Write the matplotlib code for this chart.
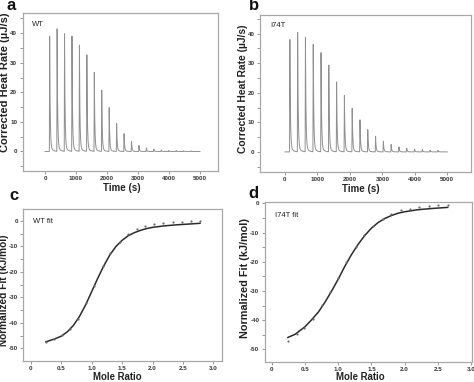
import numpy as np
import matplotlib
matplotlib.use('Agg')
import matplotlib.pyplot as plt
from matplotlib.ticker import FixedLocator

plt.rcParams['font.family'] = ['Liberation Sans', 'DejaVu Sans']
plt.rcParams['axes.unicode_minus'] = False

W, H = 474, 382

# ---------------- data ----------------
injection_times_s = [140, 380, 620, 860, 1100, 1340, 1580, 1820, 2060, 2300,
                     2540, 2780, 3020, 3260, 3500, 3740, 3980, 4220, 4460, 4700]
wt_peak_heights = [38.9, 41.4, 39.7, 38.9, 35.9, 32.6, 26.7, 20.7, 14.8, 9.5,
                   6.0, 3.5, 2.0, 1.2, 0.8, 0.5, 0.3, 0.3, 0.2, 0.2]
i74t_peak_heights = [38.0, 40.3, 38.7, 36.3, 33.5, 29.3, 23.6, 19.1, 14.7, 10.8,
                     7.5, 5.3, 3.6, 2.5, 1.7, 1.2, 1.0, 0.8, 0.6, 0.5]
run_end_s = 5000

wt_ratio = [0.25, 0.38, 0.51, 0.64, 0.78, 0.91, 1.04, 1.18, 1.31, 1.46,
            1.60, 1.74, 1.88, 2.03, 2.18, 2.33, 2.48, 2.63, 2.78]
wt_heat = [-47.6, -46.3, -44.9, -42.5, -38.5, -32.3, -25.5, -17.8, -12.5, -8.2,
           -5.2, -3.3, -1.9, -1.3, -0.6, -0.3, -0.5, -0.1, -0.1]
wt_fit_ratio = [0.25, 0.4, 0.5, 0.6, 0.7, 0.8, 0.9, 1.0, 1.1, 1.2, 1.3, 1.4,
                1.5, 1.6, 1.7, 1.8, 1.9, 2.0, 2.2, 2.4, 2.6, 2.78]
wt_fit_heat = [-47.4, -46.2, -45.2, -43.5, -41.0, -37.5, -33.0, -27.8, -22.5,
               -17.6, -13.3, -10.0, -7.6, -5.8, -4.6, -3.7, -3.0, -2.5, -1.9,
               -1.5, -1.2, -0.9]

i74t_ratio = [0.24, 0.37, 0.49, 0.62, 0.75, 0.88, 1.00, 1.12, 1.26, 1.39,
              1.53, 1.67, 1.80, 1.94, 2.08, 2.22, 2.37, 2.51, 2.65]
i74t_heat = [-47.0, -44.8, -42.5, -39.5, -34.9, -30.4, -25.6, -20.2, -15.0,
             -11.0, -7.8, -5.4, -3.7, -2.4, -2.0, -1.3, -1.0, -0.7, -0.5]
i74t_fit_ratio = [0.24, 0.35, 0.5, 0.6, 0.7, 0.8, 0.9, 1.0, 1.1, 1.2, 1.3,
                  1.4, 1.5, 1.6, 1.7, 1.8, 1.9, 2.0, 2.2, 2.4, 2.65]
i74t_fit_heat = [-45.9, -44.8, -42.2, -39.8, -37.2, -33.8, -30.0, -25.9, -21.5,
                 -17.5, -14.0, -11.0, -8.5, -6.6, -5.2, -4.2, -3.4, -2.9, -2.2,
                 -1.8, -1.4]

# ---------------- helpers ----------------
def rect(l, t, r, b):
    return [l / W, 1 - b / H, (r - l) / W, (b - t) / H]

def fx(x):
    return x / W

def fy(y):
    return 1 - y / H

SPINE = '#a8a8a8'
TXT = '#222222'

def style(ax, ypad=1.4):
    for s in ax.spines.values():
        s.set_color(SPINE)
        s.set_linewidth(0.9)
    ax.tick_params(which='both', direction='out', length=2.5, width=0.6,
                   color='#888888', labelsize=4.5, labelcolor='#333333', pad=1.4)
    ax.tick_params(axis='y', which='both', pad=ypad)
    for lab in ax.get_xticklabels() + ax.get_yticklabels():
        lab.set_fontweight('bold')

def thermogram(times, heights):
    t = np.arange(0, run_end_s + 1, 1.0)
    y = np.zeros_like(t)
    for ti, h in zip(times, heights):
        dt = t - ti
        rise = (dt >= 0) & (dt < 10)
        y[rise] += h * dt[rise] / 10
        dec = dt >= 10
        x = dt[dec] - 10
        y[dec] += h * (0.95 * np.exp(-x / 16) + 0.05 * np.exp(-x / 70))
    return t, y

fig = plt.figure(figsize=(W / 100, H / 100), dpi=100)

# ---------------- panel a / b ----------------
def heat_panel(r, xlim, ylim, heights, tag):
    ax = fig.add_axes(rect(*r))
    t, y = thermogram(injection_times_s, heights)
    ax.plot(t, y, color='#909090', lw=0.7)
    ax.set_xlim(*xlim)
    ax.set_ylim(*ylim)
    ax.xaxis.set_major_locator(FixedLocator([0, 1000, 2000, 3000, 4000, 5000]))
    ax.yaxis.set_major_locator(FixedLocator([0, 10, 20, 30, 40]))
    ax.yaxis.set_minor_locator(FixedLocator([-5, 5, 15, 25, 35, 45]))
    style(ax)
    ax.text(0.05, 0.93, tag, transform=ax.transAxes, fontsize=5.5,
            color=TXT, ha='left', va='center')
    return ax

ax_a = heat_panel((22.7, 13, 218, 171), (-720, 5580), (-6.6, 46.8),
                  wt_peak_heights, 'WT')
ax_b = heat_panel((260, 15, 471, 172), (-770, 5730), (-6.8, 46.3),
                  i74t_peak_heights, 'I74T')

# ---------------- panel c / d ----------------
def fit_panel(r, xlim, ylim, rx, hy, frx, fhy, tag, yminor, ypad):
    ax = fig.add_axes(rect(*r))
    ax.plot(frx, fhy, color='#2b2b2b', lw=1.1, zorder=2)
    ax.plot(rx, hy, 'o', ms=1.6, color='#6e6e6e', mec='none', zorder=3)
    ax.set_xlim(*xlim)
    ax.set_ylim(*ylim)
    xt = [0, 0.5, 1.0, 1.5, 2.0, 2.5, 3.0]
    ax.xaxis.set_major_locator(FixedLocator(xt))
    ax.set_xticklabels(['0', '0.5', '1.0', '1.5', '2.0', '2.5', '3.0'])
    ax.yaxis.set_major_locator(FixedLocator([0, -10, -20, -30, -40, -50]))
    ax.yaxis.set_minor_locator(FixedLocator(yminor))
    style(ax, ypad)
    ax.text(0.05, 0.92, tag, transform=ax.transAxes, fontsize=5.5,
            color=TXT, ha='left', va='center')
    return ax

ax_c = fit_panel((22.7, 209, 221.7, 360.7), (-0.131, 3.136), (-54.8, 4.7),
                 wt_ratio, wt_heat, wt_fit_ratio, wt_fit_heat, 'WT fit',
                 [5, -5, -15, -25, -35, -45], 0.8)
ax_d = fit_panel((264.7, 202.3, 471.7, 361.7), (-0.11, 3.012), (-54.2, 0.34),
                 i74t_ratio, i74t_heat, i74t_fit_ratio, i74t_fit_heat,
                 'I74T fit', [-5, -15, -25, -35, -45], 1.4)

# ---------------- axis labels ----------------
def lab(x, y, s, size, rot=0):
    fig.text(fx(x), fy(y), s, rotation=rot, ha='center', va='center',
             fontsize=size, fontweight='bold', color=TXT)

lab(5.0, 82, 'Corrected Heat Rate (µJ/s)', 8.0, 90)
lab(243, 89, 'Corrected Heat Rate (µJ/s)', 7.4, 90)
lab(122, 188, 'Time (s)', 7.0)
lab(361, 189, 'Time (s)', 7.0)
lab(4.3, 290, 'Normalized Fit (kJ/mol)', 7.3, 90)
lab(245, 278, 'Normalized Fit (kJ/mol)', 7.8, 90)
lab(117, 376.5, 'Mole Ratio', 6.9)
lab(360, 376.5, 'Mole Ratio', 6.9)

# ---------------- panel letters ----------------
let_kw = dict(fontsize=12, fontweight='bold', color='#111111',
              ha='center', va='center')
fig.text(fx(11), fy(6), 'a', **let_kw)
fig.text(fx(254), fy(6), 'b', **let_kw)
fig.text(fx(14), fy(195), 'c', **let_kw)
fig.text(fx(253), fy(194), 'd', **let_kw)

fig.savefig('out.png', dpi=100)
